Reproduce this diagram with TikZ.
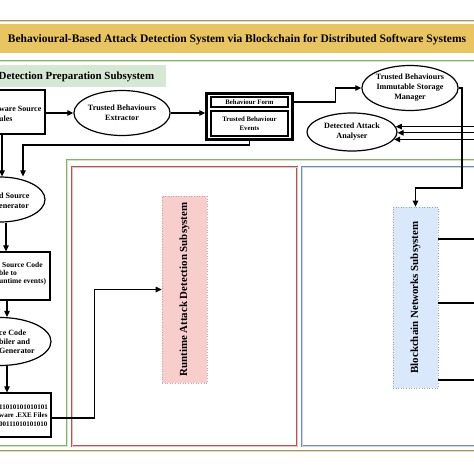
\documentclass[tikz,border=0pt]{standalone}
\usepackage{fontspec}
\setmainfont{Liberation Serif}
\usetikzlibrary{shapes.geometric,arrows.meta,calc}
\definecolor{olv}{RGB}{170,152,90}
\definecolor{gold}{RGB}{233,197,98}
\definecolor{grn}{RGB}{130,179,102}
\definecolor{lgrn}{RGB}{213,232,212}
\definecolor{rd}{RGB}{184,84,80}
\definecolor{bl}{RGB}{108,142,191}
\definecolor{pnk}{RGB}{248,206,204}
\definecolor{pnkb}{RGB}{215,160,160}
\definecolor{lbl}{RGB}{218,232,252}
\definecolor{lblb}{RGB}{150,165,190}
\begin{document}
\begin{tikzpicture}[x=1pt,y=-1pt,
  every node/.style={font=\bfseries},
  conn/.style={line width=1.1pt,-{Triangle[length=6pt,width=5.5pt]}},
  boxst/.style={draw,line width=1.2pt,rectangle,inner sep=0pt},
  ell/.style={draw,line width=1.2pt,ellipse,inner sep=0pt,align=center,font=\fontsize{8.1}{10}\selectfont\bfseries},
  txt/.style={inner sep=0pt,align=left},
  frame/.style={line width=0.8pt,double distance=1pt},
  subbox/.style={rectangle,inner sep=0pt,dotted,line width=0.6pt},
  vtxt/.style={rotate=90,inner sep=0pt,font=\fontsize{10.9}{12}\selectfont\bfseries}]
\useasboundingbox (0,0) rectangle (474,474);
\clip (0,0) rectangle (474,474);
\fill[white] (0,0) rectangle (474,474);
% title band and frames
\fill[gold] (-5,24) rectangle (479,53);
\draw[frame,draw=olv,double=olv!35] (-5,21) rectangle (479,451);
\node[font=\fontsize{11.5}{13}\selectfont\bfseries] (title) at (237,40) {Behavioural-Based Attack Detection System via Blockchain for Distributed Software Systems};
\draw[frame,draw=grn,double=grn!35] (-5,61) -- (479,61) -- (479,160) -- (67,160) -- (67,446) -- (-5,446);
\fill[lgrn] (-5,64.5) rectangle (166,87);
\node[anchor=west,inner sep=0pt,font=\fontsize{10.9}{12}\selectfont\bfseries] (hdr) at (-1.5,76.5) {Detection Preparation Subsystem};
\draw[frame,draw=rd,double=rd!35] (72,167) rectangle (297,446);
\draw[frame,draw=bl,double=bl!35] (302,167) rectangle (479,446);
% preparation nodes
\node[boxst,minimum width=95pt,minimum height=44pt] (src) at (-2.5,112) {};
\node[txt,anchor=west,font=\fontsize{8}{10}\selectfont\bfseries] (srcT) at (-1,114) {ware Source\\ules};
\node[ell,minimum width=88pt,minimum height=45pt] (ext) at (122,113) {Trusted Behaviours\\Extractor};
\node[boxst,line width=1.4pt,minimum width=87pt,minimum height=47pt] (grp) at (249.5,116.5) {};
\draw[line width=0.6pt] ($(grp.north west)+(2.2,2.2)$) rectangle ($(grp.south east)+(-2.2,-2.2)$);
\node[boxst,minimum width=77pt,minimum height=10pt,font=\fontsize{6.8}{8}\selectfont\bfseries] (bf) at (249.5,102) {Behaviour Form};
\node[boxst,minimum width=77pt,minimum height=25pt,align=center,font=\fontsize{6.8}{9.5}\selectfont\bfseries] (tbe) at (249.5,123.5) {Trusted Behaviour\\Events};
\node[ell,minimum width=94pt,minimum height=45pt] (stor) at (410,88) {Trusted Behaviours\\Immutable Storage\\Manager};
\node[ell,minimum width=90pt,minimum height=38pt] (ana) at (352,132) {Detected Attack\\Analyser};
\node[ell,minimum width=90pt,minimum height=45pt] (sgen) at (0,199.5) {};
\node[txt,anchor=west,font=\fontsize{8.1}{9.5}\selectfont\bfseries] (sgenT) at (-1,200.5) {d Source\\enerator};
\node[boxst,minimum width=100pt,minimum height=48pt] (scb) at (0,276) {};
\node[txt,anchor=west,font=\fontsize{7.5}{8}\selectfont\bfseries] (scbT) at (-1,274) {\hspace*{3pt}Source Code\\ble to\\untime events)};
\node[ell,minimum width=102pt,minimum height=48pt] (comp) at (0,341.5) {};
\node[txt,anchor=west,font=\fontsize{8}{9}\selectfont\bfseries] (compT) at (-1,342) {ce Code\\biler and\\Generator};
\node[boxst,minimum width=102pt,minimum height=44pt] (exe) at (0,415) {};
\node[txt,anchor=west,font=\fontsize{7}{8.5}\selectfont\bfseries] (exeT) at (-1,415.5) {11010101010101\\ware .EXE Files\\00111010101010};
% subsystem boxes
\node[subbox,draw=pnkb,fill=pnk,minimum width=45pt,minimum height=187pt] (rt) at (184.5,289.5) {};
\node[vtxt] (rtT) at (rt.center) {Runtime Attack Detection Subsystem};
\node[subbox,draw=lblb,fill=lbl,minimum width=45pt,minimum height=181pt] (bc) at (415.5,297.5) {};
\node[vtxt] (bcT) at (bc.center) {Blockchain Networks Subsystem};
% helper coordinates
\coordinate (s1) at (2,0);
\coordinate (s2) at (6,0);
\coordinate (s3) at (7,0);
\coordinate (s4) at (0,418);
\coordinate (lp) at (23,145);
\coordinate (k1) at (462,188);
\coordinate (y1) at (0,239);
\coordinate (y2) at (0,303);
\coordinate (y3) at (0,380);
\coordinate (r1) at (478,0);
\coordinate (r2) at (482,0);
\coordinate (r3) at (486,0);
% connectors
\draw[conn] (src.east |- ext.west) -- (ext.west);
\draw[conn] (ext.east) -- (ext.east -| grp.west);
\draw[conn] (bf.east -| grp.east) -- ++(42,0) |- (stor.west);
\draw[conn] (stor.east) -| (k1) -| (bc.north);
\draw[conn] (grp.south) |- (lp) -- (lp |- sgen.north);
\draw[conn,line width=2pt] (src.south -| s1) -- (s1 |- sgen.north);
\draw[conn] (s2 |- sgen.south) -- (s2 |- scb.north);
\draw[conn] (s3 |- scb.south) -- (s3 |- comp.north);
\draw[conn] (s3 |- comp.south) -- (s3 |- exe.north);
\draw[conn] (exe.east |- s4) -- ++(43,0) |- (rt.west);
\draw[conn] (bc.east |- y1) -- (r1 |- y1) |- (ana.7);
\draw[conn] (bc.east |- y2) -- (r2 |- y2) |- (ana.-1);
\draw[conn] (bc.east |- y3) -- (r3 |- y3) |- (ana.-10);
\end{tikzpicture}
\end{document}
